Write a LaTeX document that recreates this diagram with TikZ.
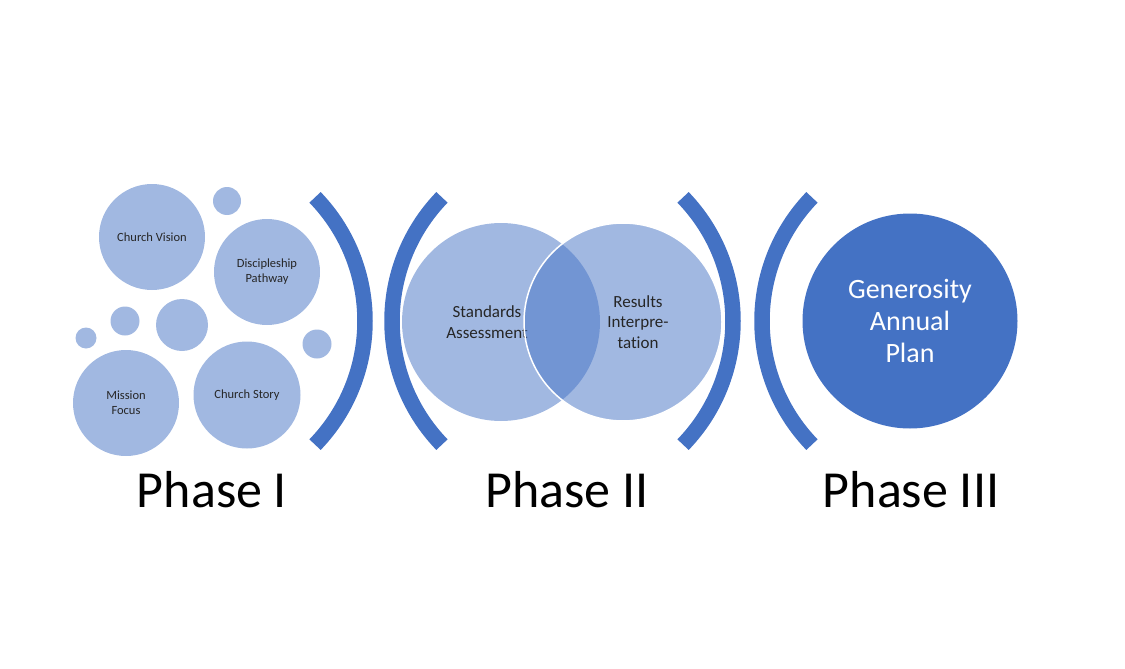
\documentclass[tikz,border=0pt]{standalone}
\usepackage{fontspec}
\setmainfont[Ligatures=NoCommon]{Carlito}
\definecolor{acc}{HTML}{4472C4}
\definecolor{lite}{HTML}{A1B8E1}
\begin{document}
\begin{tikzpicture}[x=1pt,y=-1pt,
  bub/.style={circle, fill=lite, inner sep=0pt, align=center, font=\fontsize{12.5}{15}\selectfont, text=black!85},
  venn/.style={circle, fill=acc, fill opacity=0.5, text opacity=1, inner sep=0pt, minimum size=198pt, align=center, font=\fontsize{17}{20.5}\selectfont, text=black!85},
  bracket/.style={draw=acc, line width=15.5pt, line cap=butt},
  phase/.style={anchor=base, font=\fontsize{52}{52}\selectfont, text=black}]
\useasboundingbox (0,0) rectangle (1125,669);
% Phase I
\node[bub, minimum size=106pt] (vision) at (152,237) {Church Vision};
\node[bub, minimum size=28pt] (s1) at (227,201) {};
\node[bub, minimum size=106pt] (path) at (267,272) {Discipleship\\Pathway};
\node[bub, minimum size=21pt] (s2) at (86,338) {};
\node[bub, minimum size=29pt] (s3) at (125,321) {};
\node[bub, minimum size=52pt] (s4) at (182,325) {};
\node[bub, minimum size=29pt] (s5) at (317,344) {};
\node[bub, minimum size=106pt] (mission) at (126,403) {Mission\\Focus};
\node[bub, minimum size=107pt] (story) at (247,395) {Church Story};
% brackets
\draw[bracket] (187,321) ++(-44:178) arc[start angle=-44, end angle=44, radius=178];
\draw[bracket] (570,321) ++(136:178) arc[start angle=136, end angle=224, radius=178];
\draw[bracket] (555,321) ++(-44:178) arc[start angle=-44, end angle=44, radius=178];
\draw[bracket] (940,321) ++(136:178) arc[start angle=136, end angle=224, radius=178];
% Phase II
\node[venn] (std) at (501,322) {\hspace*{-28pt}Standards\\\hspace*{-28pt}Assessment};
\node[venn, draw=white, line width=1.5pt] (res) at (623,322) {\hspace*{30pt}Results\\\hspace*{30pt}Interpre-\\\hspace*{30pt}tation};
% Phase III
\node[circle, fill=acc, inner sep=0pt, minimum size=215pt, align=center, text=white, font=\fontsize{28}{32}\selectfont] (plan) at (910,321) {Generosity\\Annual\\Plan};
% labels
\node[phase] (p1) at (212,507) {Phase I};
\node[phase] (p2) at (567,507) {Phase II};
\node[phase] (p3) at (911,507) {Phase III};
\end{tikzpicture}
\end{document}
